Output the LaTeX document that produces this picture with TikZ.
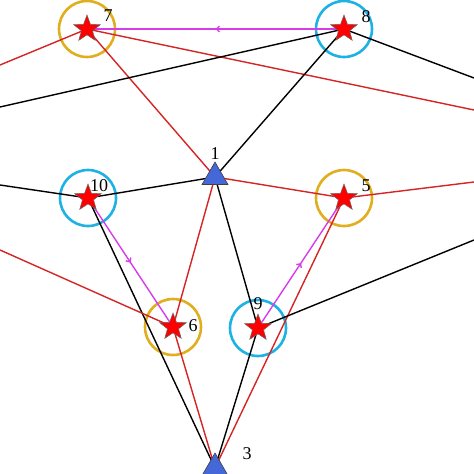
\documentclass[tikz,border=0pt]{standalone}
\usepackage{fontspec}
\setmainfont{Liberation Serif}
\usetikzlibrary{shapes.geometric,decorations.markings,arrows.meta}
\definecolor{gold}{HTML}{E0AE1E}
\definecolor{sky}{HTML}{1EB2E4}
\definecolor{redline}{HTML}{D42424}
\definecolor{mag}{HTML}{D63CEA}
\definecolor{triblue}{HTML}{4468D8}
\tikzset{
  redE/.style={draw=redline, line width=1.4pt},
  blackE/.style={draw=black, line width=1.4pt},
  magE/.style={draw=mag, line width=1.4pt, postaction={decorate},
    decoration={markings, mark=at position 0.5 with {\arrow{Straight Barb[length=3pt,width=6pt]}}}},
  starnode/.style={star, star points=5, star point ratio=2.4, minimum size=28pt, inner sep=0pt, fill=red, draw=gray!80!black, line width=0.5pt},
  trinode/.style={regular polygon, regular polygon sides=3, minimum size=30pt, inner sep=0pt, fill=triblue, draw=gray!50!black, line width=0.6pt},
  ringG/.style={circle, draw=gold, line width=2.6pt, minimum size=56pt, inner sep=0pt},
  ringB/.style={circle, draw=sky, line width=2.6pt, minimum size=56pt, inner sep=0pt},
  lbl/.style={font=\fontsize{18}{18}\selectfont, inner sep=0pt}
}
\begin{document}
\begin{tikzpicture}[x=1pt,y=-1pt]
\useasboundingbox (0,0) rectangle (474,474);
% positions
\coordinate (p7) at (87,29);
\coordinate (p8) at (344,29);
\coordinate (p1) at (215,177);
\coordinate (p10) at (88,198);
\coordinate (p5) at (344,198);
\coordinate (p6) at (173,327);
\coordinate (p9) at (258,328);
\coordinate (p3) at (215,468);
% frame ends
\coordinate (eL7) at (0,65);
\coordinate (eR7) at (474,110);
\coordinate (eL8) at (0,107);
\coordinate (eR8) at (474,78);
\coordinate (eL10) at (0,185);
\coordinate (eR5) at (474,182);
\coordinate (eL6) at (0,250);
\coordinate (eR9) at (474,240);
% rings
\node[ringG] (r7) at (p7) {};
\node[ringB] (r8) at (p8) {};
\node[ringB] (r10) at (p10) {};
\node[ringG] (r5) at (p5) {};
\node[ringG] (r6) at (p6) {};
\node[ringB] (r9) at (p9) {};
% edges
\draw[redE] (eL7) -- (p7);
\draw[redE] (p7) -- (eR7);
\draw[redE] (p7) -- (p1);
\draw[blackE] (eL8) -- (p8);
\draw[blackE] (p8) -- (eR8);
\draw[blackE] (p8) -- (p1);
\draw[blackE] (eL10) -- (p10);
\draw[blackE] (p10) -- (p1);
\draw[redE] (p1) -- (p5);
\draw[redE] (p5) -- (eR5);
\draw[redE] (p1) -- (p6);
\draw[blackE] (p1) -- (p9);
\draw[blackE] (p10) -- (p3);
\draw[redE] (eL6) -- (p6);
\draw[redE] (p6) -- (p3);
\draw[blackE] (p9) -- (p3);
\draw[redE] (p5) -- (p3);
\draw[blackE] (p9) -- (eR9);
\draw[magE] (p8) -- (p7);
\draw[magE] (p10) -- (p6);
\draw[magE] (p9) -- (p5);
% nodes
\node[starnode] (n7) at (p7) {};
\node[starnode] (n8) at (p8) {};
\node[starnode] (n10) at (p10) {};
\node[starnode] (n5) at (p5) {};
\node[starnode] (n6) at (p6) {};
\node[starnode] (n9) at (p9) {};
\node[trinode] (n1) at (p1) {};
\node[trinode] (n3) at (p3) {};
% labels
\node[lbl] (l7) at (108,16) {7};
\node[lbl] (l8) at (366,17) {8};
\node[lbl] (l1) at (215,154) {1};
\node[lbl] (l10) at (99,186) {10};
\node[lbl] (l5) at (366,186) {5};
\node[lbl] (l6) at (193,326) {6};
\node[lbl] (l9) at (258,304) {9};
\node[lbl] (l3) at (247,454) {3};
\end{tikzpicture}
\end{document}
